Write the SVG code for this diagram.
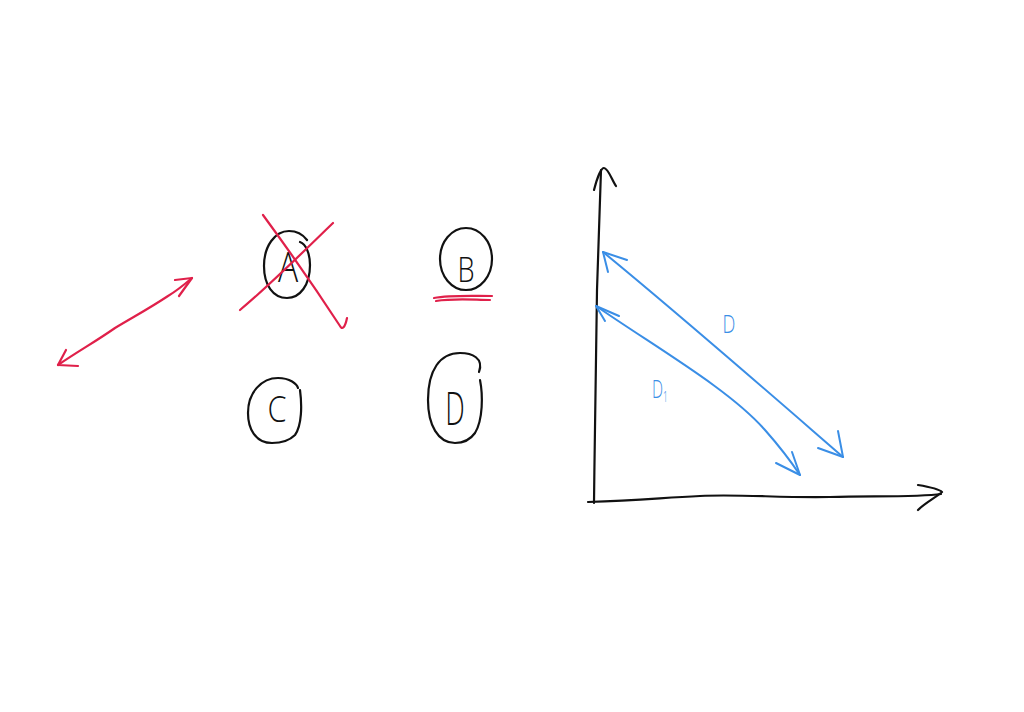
<svg xmlns="http://www.w3.org/2000/svg" width="1024" height="712" viewBox="0 0 1024 712">
<style>
.k{fill:none;stroke:#111;stroke-width:2.2;stroke-linecap:round;stroke-linejoin:round}
.r{fill:none;stroke:#e0204a;stroke-width:2.2;stroke-linecap:round;stroke-linejoin:round}
.b{fill:none;stroke:#3a8ee6;stroke-width:2;stroke-linecap:round;stroke-linejoin:round}
.t{font-family:"Open Sans","Liberation Sans",Arial,sans-serif;font-weight:300;text-anchor:middle;fill:#111}
.tb{font-family:"Open Sans","Liberation Sans",Arial,sans-serif;font-weight:300;text-anchor:middle;fill:#3a8ee6}
</style>
<rect width="1024" height="712" fill="#fff"/>
<g id="connectors">
<g id="red-double-arrow">
<path class="r" d="M58,365 C80,350 95,342 115,328 C135,316 150,308 168,296 C178,290 185,284 192,278"/>
<path class="r" d="M175,280 L192,278 L179,296"/>
<path class="r" d="M66,350 L58,365 L78,366"/>
</g>
<g id="y-axis">
<path class="k" d="M594,503 C595,420 596,330 597,290 C599,240 600,200 601,170"/>
<path class="k" d="M594,190 C597,178 601,168 604,168 C608,168 612,180 616,186"/>
</g>
<g id="x-axis">
<path class="k" d="M588,502 C640,500 660,498 700,496 C740,494 780,498 830,497 C880,496 920,497 941,494"/>
<path class="k" d="M918,485 C930,487 940,490 942,492 C935,498 925,503 918,510"/>
</g>
<g id="line-D">
<path class="b" d="M603,252 C680,315 760,385 843,457"/>
<path class="b" d="M627,260 L603,252 L608,272"/>
<path class="b" d="M838,431 L843,457 L818,448"/>
</g>
<g id="line-D1">
<path class="b" d="M596,306 C660,350 730,390 765,430 C780,447 790,460 800,475"/>
<path class="b" d="M619,316 L596,306 L605,321"/>
<path class="b" d="M792,452 L800,475 L776,463"/>
</g>
</g>
<g id="node-A">
<path class="k" d="M300,242 C306,244 310,254 310,265 C310,285 300,298 287,298 C273,298 264,285 264,266 C264,246 275,231 289,231 C298,231 304,236 307,240"/>
<text class="t" x="288" y="282" font-size="42" transform="translate(288,270) scale(0.8,1) translate(-288,-270)">A</text>
<path class="r" d="M263,215 C285,245 310,280 340,326 C342,330 345,328 347,318"/>
<path class="r" d="M240,310 C270,285 305,250 333,223"/>
</g>
<g id="node-B">
<ellipse class="k" cx="466" cy="259" rx="26" ry="31"/>
<text class="t" x="466" y="282" font-size="34" transform="translate(466,270) scale(0.8,1) translate(-466,-270)">B</text>
<path class="r" d="M434,298 C450,295 470,296 492,296 M436,301 C455,298 475,300 490,300"/>
</g>
<g id="node-C">
<path class="k" d="M300,390 C302,405 302,425 295,435 C288,442 280,443 272,443 C255,443 248,428 248,413 C248,392 262,378 278,378 C290,378 297,384 298,388"/>
<text class="t" x="277" y="422" font-size="36" transform="translate(277,410) scale(0.85,1) translate(-277,-410)">C</text>
</g>
<g id="node-D">
<path class="k" d="M480,380 C483,395 483,420 475,433 C470,440 462,443 455,443 C438,443 428,425 428,400 C428,370 440,353 460,353 C472,353 484,358 479,372"/>
<text class="t" x="455" y="425" font-size="46" transform="translate(455,404) scale(0.6,1) translate(-455,-404)">D</text>
</g>
<g id="labels">
<text class="tb" x="729" y="333" font-size="26" transform="translate(729,322) scale(0.7,1) translate(-729,-322)">D</text>
<text class="tb" x="660" y="398" font-size="26" transform="translate(660,388) scale(0.6,1) translate(-660,-388)">D<tspan font-size="14" dy="4">1</tspan></text>
</g>
</svg>
